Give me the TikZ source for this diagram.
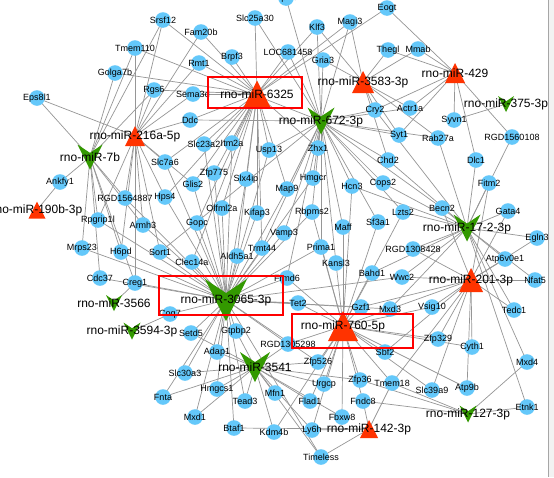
\documentclass[tikz,border=0pt]{standalone}
\usepackage{fontspec}
\setmainfont{Liberation Sans}
\pgfdeclarelayer{bg}
\pgfdeclarelayer{mid}
\pgfsetlayers{bg,mid,main}
\definecolor{gblue}{RGB}{100,200,250}
\definecolor{mred}{RGB}{255,51,0}
\definecolor{mgreen}{RGB}{51,153,0}
\definecolor{edgec}{RGB}{150,150,150}
\tikzset{
 glab/.style={inner sep=0pt, font=\fontsize{9}{9}\selectfont, text=black},
 mlab/.style={inner sep=0pt, font=\fontsize{12}{12}\selectfont, text=black},
 edgeline/.style={draw=edgec, line width=0.7pt},
 redbox/.style={draw=red, line width=1.3pt},
}
\newcommand\gn[4]{\begin{pgfonlayer}{mid}\fill[gblue] (#2,#3) circle (7.8pt);\end{pgfonlayer}\node[glab] (#1) at (#2,#3) {#4};}
\newcommand\mirT[5]{\begin{pgfonlayer}{mid}\fill[mred] (#2-#4/2,#3+#4/2) -- (#2,#3-#4/2) -- (#2+#4/2,#3+#4/2) -- cycle;\end{pgfonlayer}\node[mlab] (#1) at (#2,#3) {#5};}
\newcommand\mirV[5]{\begin{pgfonlayer}{mid}\fill[mgreen] (#2-#4/2,#3-#4/2) -- (#2,#3-#4/6) -- (#2+#4/2,#3-#4/2) -- (#2,#3+#4/2) -- cycle;\end{pgfonlayer}\node[mlab] (#1) at (#2,#3) {#5};}
\newcommand\ed[2]{\begin{pgfonlayer}{bg}\foreach \g in {#2}{\draw[edgeline] (#1.center) -- (\g.center);}\end{pgfonlayer}}
\begin{document}
\begin{tikzpicture}[x=1pt,y=-1pt]
\useasboundingbox (0,0) rectangle (554,477);
\begin{pgfonlayer}{bg}
\fill[white] (0,0) rectangle (554,477);
\fill[black!5] (548,0) rectangle (554,477);
\draw[black!35, line width=0.8pt] (548,0) -- (548,477);
\end{pgfonlayer}
% genes
\gn{Mpzl3}{286}{-2}{Mpzl3}
\gn{Eogt}{387}{8}{Eogt}
\gn{Srsf12}{163}{20}{Srsf12}
\gn{Slc25a30}{255}{18}{Slc25a30}
\gn{Klf3}{317}{27}{Klf3}
\gn{Magi3}{350}{22}{Magi3}
\gn{Fam20b}{201}{32}{Fam20b}
\gn{Tmem110}{135}{48}{Tmem110}
\gn{Brpf3}{232}{57}{Brpf3}
\gn{LOC}{288}{52}{LOC681458}
\gn{Rmt1}{199}{63}{Rmt1}
\gn{Gria3}{323}{60}{Gria3}
\gn{Golga7b}{115}{73}{Golga7b}
\gn{Thegl}{388}{50}{Thegl}
\gn{Mmab}{418}{49}{Mmab}
\gn{Eps8l1}{37}{98}{Eps8l1}
\gn{Rgs6}{154}{90}{Rgs6}
\gn{Sema3d}{193}{94}{Sema3d}
\gn{Ddc}{190}{120}{Ddc}
\gn{Cry2}{375}{110}{Cry2}
\gn{Actr1a}{410}{108}{Actr1a}
\gn{Syvn1}{454}{120}{Syvn1}
\gn{Syt1}{399}{135}{Syt1}
\gn{Rab27a}{438}{138}{Rab27a}
\gn{RGDa}{512}{137}{RGD1560108}
\gn{Slc7a6}{165}{162}{Slc7a6}
\gn{Slc23a2}{204}{144}{Slc23a2}
\gn{Itm2a}{232}{143}{Itm2a}
\gn{Usp13}{269}{150}{Usp13}
\gn{Zhx1}{318}{148}{Zhx1}
\gn{Chd2}{388}{160}{Chd2}
\gn{Dlc1}{476}{160}{Dlc1}
\gn{Fitm2}{489}{183}{Fitm2}
\gn{Hps4}{165}{197}{Hps4}
\gn{Glis2}{193}{184}{Glis2}
\gn{Zfp775}{214}{173}{Zfp775}
\gn{Slx4ip}{246}{179}{Slx4ip}
\gn{Map9}{287}{189}{Map9}
\gn{Hmgcr}{313}{178}{Hmgcr}
\gn{Hcn3}{352}{186}{Hcn3}
\gn{Cops2}{383}{183}{Cops2}
\gn{RGDb}{125}{198}{RGD1564887}
\gn{Olfml2a}{222}{208}{Olfml2a}
\gn{Kifap3}{257}{213}{Kifap3}
\gn{Rbpms2}{312}{212}{Rbpms2}
\gn{Maff}{343}{227}{Maff}
\gn{Sf3a1}{378}{222}{Sf3a1}
\gn{Lzts2}{403}{212}{Lzts2}
\gn{Becn2}{442}{208}{Becn2}
\gn{Gata4}{508}{211}{Gata4}
\gn{Egln3}{537}{238}{Egln3}
\gn{Gopc}{197}{223}{Gopc}
\gn{Armh3}{143}{225}{Armh3}
\gn{Rpgrip1l}{98}{220}{Rpgrip1l}
\gn{Ankfy1}{60}{182}{Ankfy1}
\gn{Mrps23}{82}{248}{Mrps23}
\gn{H6pd}{121}{252}{H6pd}
\gn{Sort1}{160}{252}{Sort1}
\gn{Vamp3}{284}{233}{Vamp3}
\gn{Trmt44}{262}{248}{Trmt44}
\gn{Aldh5a1}{237}{256}{Aldh5a1}
\gn{Prima1}{321}{247}{Prima1}
\gn{Kansl3}{336}{263}{Kansl3}
\gn{Clec14a}{192}{262}{Clec14a}
\gn{Bahd1}{372}{273}{Bahd1}
\gn{Wwc2}{402}{277}{Wwc2}
\gn{RGDc}{413}{249}{RGD1308428}
\gn{Atp6v0e1}{505}{259}{Atp6v0e1}
\gn{Nfat5}{535}{280}{Nfat5}
\gn{Tedc1}{514}{310}{Tedc1}
\gn{Cdc37}{100}{278}{Cdc37}
\gn{Creg1}{135}{283}{Creg1}
\gn{Frmd6}{287}{278}{Frmd6}
\gn{Tet2}{298}{303}{Tet2}
\gn{Gzf1}{361}{307}{Gzf1}
\gn{Mxd3}{390}{309}{Mxd3}
\gn{Vsig10}{432}{307}{Vsig10}
\gn{Coq7}{170}{314}{Coq7}
\gn{Setd5}{191}{333}{Setd5}
\gn{Gtpbp2}{236}{331}{Gtpbp2}
\gn{RGDd}{288}{344}{RGD1305298}
\gn{Sbf2}{385}{352}{Sbf2}
\gn{Zfp329}{438}{339}{Zfp329}
\gn{Cyth1}{472}{347}{Cyth1}
\gn{Adap1}{217}{352}{Adap1}
\gn{Zfp526}{318}{362}{Zfp526}
\gn{Slc30a3}{185}{373}{Slc30a3}
\gn{Mxd4}{527}{362}{Mxd4}
\gn{Urgcp}{324}{384}{Urgcp}
\gn{Zfp36}{360}{380}{Zfp36}
\gn{Tmem18}{392}{383}{Tmem18}
\gn{Hmgcs1}{217}{389}{Hmgcs1}
\gn{Slc39a9}{432}{390}{Slc39a9}
\gn{Atp9b}{467}{388}{Atp9b}
\gn{Mfn1}{275}{393}{Mfn1}
\gn{Fnta}{163}{397}{Fnta}
\gn{Tead3}{245}{401}{Tead3}
\gn{Flad1}{310}{401}{Flad1}
\gn{Fndc8}{363}{401}{Fndc8}
\gn{Etnk1}{527}{407}{Etnk1}
\gn{Mxd1}{195}{417}{Mxd1}
\gn{Fbxw8}{342}{417}{Fbxw8}
\gn{Btaf1}{234}{428}{Btaf1}
\gn{Kdm4b}{274}{432}{Kdm4b}
\gn{Ly6h}{312}{430}{Ly6h}
\gn{Timeless}{321}{457}{Timeless}
% miRNAs
\mirT{m6325}{257}{94}{27}{rno-miR-6325}
\mirT{m3583}{363}{82}{22}{rno-miR-3583-3p}
\mirT{m429}{455}{73}{20}{rno-miR-429}
\mirT{m216a}{135}{136}{20}{rno-miR-216a-5p}
\mirT{m190b}{37}{210}{17}{rno-miR-190b-3p}
\mirT{m760}{343}{326}{30}{rno-miR-760-5p}
\mirT{m201}{471}{280}{24}{rno-miR-201-3p}
\mirT{m142}{369}{429}{18}{rno-miR-142-3p}
\mirV{m672}{321}{121}{27}{rno-miR-672-3p}
\mirV{m375}{506}{104}{16}{rno-miR-375-3p}
\mirV{m7b}{90}{157}{25}{rno-miR-7b}
\mirV{m3566}{114}{303}{16}{rno-miR-3566}
\mirV{m3594}{132}{331}{17}{rno-miR-3594-3p}
\mirV{m3065}{226}{300}{42}{rno-miR-3065-3p}
\mirV{m3541}{255}{367}{30}{rno-miR-3541}
\mirV{m17}{467}{228}{27}{rno-miR-17-2-3p}
\mirV{m127}{468}{414}{17}{rno-miR-127-3p}
% red boxes
\draw[redbox] (208,77) rectangle (302,108);
\draw[redbox] (159,276) rectangle (283,315);
\draw[redbox] (292,314) rectangle (413,348);
% edges
\ed{m6325}{Srsf12,Fam20b,Rmt1,Brpf3,Slc25a30,LOC,Magi3,Eogt,Golga7b,Rgs6,Sema3d,Ddc,Slc7a6,Slc23a2,Itm2a,Usp13,Zfp775,Glis2,Slx4ip,Olfml2a,Kifap3,Gopc,Aldh5a1,Clec14a,Trmt44,Map9,Hps4,Zhx1,Klf3}
\ed{m672}{Mpzl3,Klf3,Gria3,LOC,Slc25a30,Magi3,Tmem110,Ddc,Cry2,Actr1a,Syt1,Rab27a,Chd2,Cops2,Becn2,Lzts2,Sf3a1,Hcn3,Maff,Prima1,Rbpms2,Hmgcr,Zhx1,Map9,Usp13,Vamp3,Kansl3,Sort1,Frmd6,Trmt44}
\ed{m216a}{Srsf12,Tmem110,Rgs6,Eps8l1,Sema3d,Rmt1,Fam20b,Ddc,Slc7a6,Hps4,RGDb,Armh3,Rpgrip1l,H6pd,Creg1,Sort1,Glis2}
\ed{m7b}{Eps8l1,Golga7b,Tmem110,Rgs6,Srsf12,Ankfy1,Rpgrip1l,Mrps23,H6pd,Creg1,RGDb,Armh3,Cdc37}
\ed{m190b}{Ankfy1}
\ed{m3566}{Creg1}
\ed{m3594}{Coq7}
\ed{m375}{Syvn1}
\ed{m429}{Eogt,Thegl,Mmab,Cry2,Actr1a,Syt1,Syvn1,RGDa,Dlc1}
\ed{m3583}{Magi3,Klf3,Gria3,Thegl,Mmab,Cry2,Actr1a,Rab27a,Chd2,Syt1}
\ed{m17}{Becn2,Fitm2,Dlc1,Gata4,Egln3,Atp6v0e1,Nfat5,Lzts2,Cops2,Chd2,Cry2,Rab27a,RGDa,RGDc,Wwc2,Bahd1,Tedc1,Mxd4,Etnk1,Mxd3,Hcn3}
\ed{m201}{Atp6v0e1,Nfat5,Tedc1,Gata4,Egln3,Fitm2,Becn2,Vsig10,Mxd3,Gzf1,Wwc2,RGDc,Cyth1,Atp9b,Zfp329,Slc39a9,Sbf2,Tmem18}
\ed{m127}{Mxd4,Etnk1,Tmem18,Zfp36,Fndc8}
\ed{m760}{Gzf1,Mxd3,Vsig10,Sbf2,Zfp329,Cyth1,Atp9b,Slc39a9,Tmem18,Zfp36,Fndc8,Urgcp,Fbxw8,Flad1,Ly6h,Kdm4b,Zfp526,RGDd,Tet2,Frmd6,Kansl3,Prima1,Bahd1,Maff,Hcn3,Sf3a1,Rbpms2,Lzts2}
\ed{m3065}{Cdc37,Creg1,Mrps23,Rpgrip1l,H6pd,Sort1,RGDb,Armh3,Hps4,Slc7a6,Clec14a,Gopc,Glis2,Zfp775,Olfml2a,Slc23a2,Itm2a,Slx4ip,Kifap3,Aldh5a1,Trmt44,Vamp3,Map9,Hmgcr,Rbpms2,Prima1,Frmd6,Tet2,Gzf1,Mxd3,Wwc2,Coq7,Setd5,Gtpbp2,Adap1,RGDd,Zfp526,Slc30a3,Fnta,Hmgcs1,Tead3,Btaf1,Timeless,Mxd1,Usp13}
\ed{m3541}{Gtpbp2,Setd5,Adap1,Slc30a3,Fnta,Hmgcs1,Mxd1,Tead3,Mfn1,Kdm4b,Ly6h,Timeless,Flad1,Urgcp,Fbxw8,Zfp526,RGDd,Zfp36}
\ed{m142}{Btaf1,Timeless,Ly6h,Tmem18,Fndc8}
\end{tikzpicture}
\end{document}
